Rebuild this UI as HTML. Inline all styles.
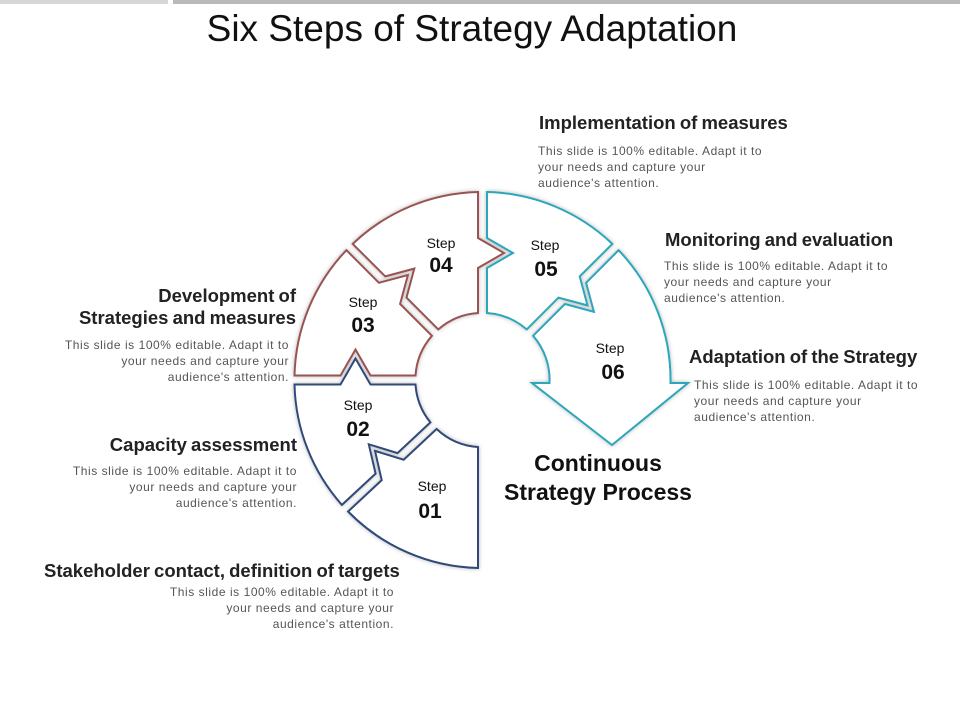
<!DOCTYPE html>
<html><head><meta charset="utf-8"><style>
body{margin:0;width:960px;height:720px;background:#fff;position:relative;overflow:hidden;font-family:"Liberation Sans",sans-serif}
.t{position:absolute;white-space:nowrap}
h1{position:absolute;margin:0;left:0;width:944px;text-align:center;top:8px;font-size:37px;font-weight:normal;color:#111}
.h{font-weight:bold;font-size:18.5px;color:#222;word-spacing:-1px}
.b{font-size:12px;color:#555;line-height:16px;letter-spacing:0.55px}
.r{text-align:right}
.s{font-size:14px;color:#111;text-align:center;width:60px}
.n{font-size:21px;font-weight:bold;color:#111;text-align:center;width:60px}
</style></head><body>
<div style="position:absolute;left:0;top:0;width:168px;height:4px;background:#d6d6d6"></div>
<div style="position:absolute;left:173px;top:0;width:787px;height:4px;background:#b9b9b9"></div>
<h1>Six Steps of Strategy Adaptation</h1>
<svg id="sv" width="960" height="720" style="position:absolute;left:0;top:0">
<defs><filter id="sh" x="-20%" y="-20%" width="140%" height="140%"><feDropShadow dx="0" dy="0" stdDeviation="2" flood-color="#999" flood-opacity="0.7"/></filter></defs>
<g id="g" filter="url(#sh)"></g>
</svg>
<script>
var cx=482.5,cy=380,R=188,r=67,h=4.5,m1=112,m2=142,mid=127,H=26;
function B(a,rho,s){var t=a*Math.PI/180,u=[Math.cos(t),Math.sin(t)],v=[-Math.sin(t),Math.cos(t)];return (cx+rho*u[0]+s*v[0]).toFixed(1)+','+(cy+rho*u[1]+s*v[1]).toFixed(1);}
function seg(a0,a1,n0,n1,col,arrow){
 var d='M'+B(a0,r,h);
 if(n0){d+=' L'+B(a0,m1,h)+' L'+B(a0,mid,h+H)+' L'+B(a0,m2,h);}
 d+=' L'+B(a0,R,h);
 if(arrow){
  d+=' A'+R+','+R+' 0 0 1 '+(cx+R)+','+(cy+3)+' L688,383 L612,445 L532,383 L'+(cx+r)+','+(cy+3)+' A'+r+','+r+' 0 0 0 '+B(a0,r,h)+'Z';
 } else {
  d+=' A'+R+','+R+' 0 0 1 '+B(a1,R,-h);
  if(n1){d+=' L'+B(a1,m2,-h)+' L'+B(a1,mid,-h+H)+' L'+B(a1,m1,-h);}
  d+=' L'+B(a1,r,-h)+' A'+r+','+r+' 0 0 0 '+B(a0,r,h)+'Z';
 }
 return '<path d="'+d+'" fill="#fff" stroke="'+col+'" stroke-width="2" stroke-linejoin="miter"/>';
}
var nv='#2e4a7a',br='#9a5252',tl='#2aa7bb';
document.getElementById('g').innerHTML=
 seg(90,137,false,true,nv)+seg(137,180,true,true,nv)+seg(180,225,true,true,br)+seg(225,270,true,true,br)+seg(270,315,true,true,tl)+seg(315,360,true,false,tl,true);
</script>
<div class="t s" style="left:411px;top:235px">Step</div><div class="t n" style="left:411px;top:254px">04</div>
<div class="t s" style="left:515px;top:237px">Step</div><div class="t n" style="left:516px;top:258px">05</div>
<div class="t s" style="left:333px;top:294px">Step</div><div class="t n" style="left:333px;top:314px">03</div>
<div class="t s" style="left:580px;top:340px">Step</div><div class="t n" style="left:583px;top:361px">06</div>
<div class="t s" style="left:328px;top:397px">Step</div><div class="t n" style="left:328px;top:418px">02</div>
<div class="t s" style="left:402px;top:478px">Step</div><div class="t n" style="left:400px;top:500px">01</div>
<div class="t" style="left:478px;top:449px;width:240px;text-align:center;font-weight:bold;font-size:23px;color:#111;line-height:29px">Continuous<br>Strategy Process</div>
<div class="t h" style="left:539px;top:112px">Implementation of measures</div>
<div class="t b" style="left:538px;top:143px">This slide is 100% editable. Adapt it to<br>your needs and capture your<br>audience's attention.</div>
<div class="t h" style="left:665px;top:229px">Monitoring and evaluation</div>
<div class="t b" style="left:664px;top:258px">This slide is 100% editable. Adapt it to<br>your needs and capture your<br>audience's attention.</div>
<div class="t h" style="left:689px;top:346px">Adaptation of the Strategy</div>
<div class="t b" style="left:694px;top:377px">This slide is 100% editable. Adapt it to<br>your needs and capture your<br>audience's attention.</div>
<div class="t h r" style="right:664px;top:285px;line-height:22px">Development of<br>Strategies and measures</div>
<div class="t b r" style="right:671px;top:337px">This slide is 100% editable. Adapt it to<br>your needs and capture your<br>audience's attention.</div>
<div class="t h r" style="right:663px;top:434px">Capacity assessment</div>
<div class="t b r" style="right:663px;top:463px">This slide is 100% editable. Adapt it to<br>your needs and capture your<br>audience's attention.</div>
<div class="t h" style="left:44px;top:560px">Stakeholder contact, definition of targets</div>
<div class="t b r" style="right:566px;top:584px">This slide is 100% editable. Adapt it to<br>your needs and capture your<br>audience's attention.</div>
</body></html>
